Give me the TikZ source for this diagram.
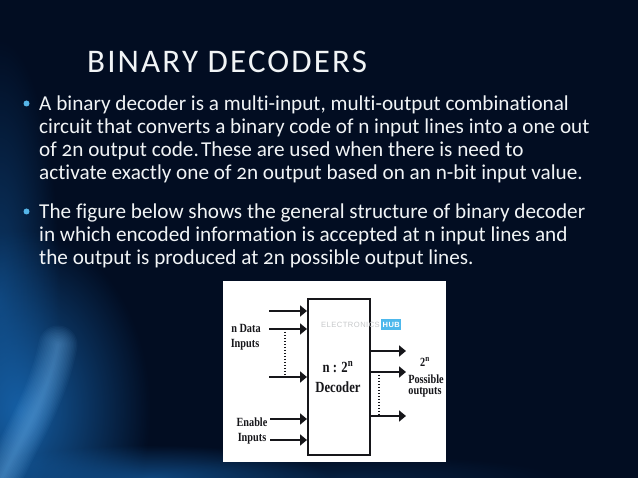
\documentclass[tikz,border=0pt]{standalone}
\usepackage{fontspec}
\setmainfont[Numbers=OldStyle,Ligatures=NoCommon]{Carlito}
\newfontfamily\titlefont[LetterSpace=6.5,Ligatures=NoCommon]{Carlito}
\newfontfamily\figfont[FakeStretch=0.82]{Liberation Serif}
\newfontfamily\wmfont[LetterSpace=6]{Liberation Sans}
\usetikzlibrary{arrows.meta,calc,fadings}
\definecolor{bgnavy}{HTML}{020D22}
\definecolor{glowblue}{HTML}{1766B0}
\definecolor{swoosh}{HTML}{6FB4EE}
\definecolor{bullet}{HTML}{55B5E8}
\definecolor{bodytxt}{HTML}{F1F4F6}
\definecolor{figink}{HTML}{16161A}
\definecolor{wmgrey}{HTML}{C6C8CA}
\definecolor{wmblue}{HTML}{4DB8EC}
\tikzfading[name=fadeB,inner color=transparent!0,outer color=transparent!100]
\tikzset{
 title/.style={anchor=base west,text=bodytxt,font=\titlefont\fontsize{33}{33}\selectfont,inner sep=0pt},
 body/.style={anchor=base west,text=bodytxt,font=\frenchspacing\fontsize{21.2}{22}\selectfont,inner sep=0pt},
 dot/.style={circle,fill=bullet,minimum size=6pt,inner sep=0pt},
 lab/.style={text=figink,font=\figfont\bfseries\fontsize{12.5}{12.5}\selectfont,inner sep=0pt},
 biglab/.style={text=figink,font=\figfont\bfseries\fontsize{15.5}{15.5}\selectfont,inner sep=0pt},
 sig/.style={line width=2pt,figink,-{Triangle[length=7pt,width=11pt]}},
 dots/.style={line width=1.3pt,figink,dash pattern=on 1.5pt off 1.5pt},
}
\begin{document}
\begin{tikzpicture}[x=1pt,y=-1pt]
\useasboundingbox (0,0) rectangle (638,478);
\fill[bgnavy] (0,0) rectangle (638,478);
% background glow
\begin{scope}
\clip (0,0) rectangle (638,478);
\fill[glowblue,path fading=fadeB,opacity=.50] (-60,40) rectangle (60,560);
\fill[glowblue,path fading=fadeB,opacity=.90] (-110,230) rectangle (150,590);
\fill[glowblue,path fading=fadeB,opacity=.65] (-30,445) rectangle (330,511);
\fill[glowblue,path fading=fadeB,opacity=.22] (130,455) rectangle (560,501);
\foreach \w in {3,6,...,39}
  \draw[swoosh,opacity=.05,line width=\w pt,line cap=round] (58,345) .. controls (48,395) and (25,430) .. (2,478);
\end{scope}
% text
\node[title] (ttl) at (87,73) {BINARY DECODERS};
\node[dot] (b1) at (26.5,103.5) {};
\node[dot] (b2) at (26.5,211.5) {};
\node[body] (l1) at (39,111) {A binary decoder is a multi-input, multi-output combinational};
\node[body] (l2) at (39,134) {circuit that converts a binary code of n input lines into a one out};
\node[body] (l3) at (39,157) {of 2n output code.\hspace{-2.5pt} These are used when there is need to};
\node[body] (l4) at (39,180) {activate exactly one of 2n output based on an n-bit input value.};
\node[body] (l5) at (39,219) {The figure below shows the general structure of binary decoder};
\node[body] (l6) at (39,242) {in which encoded information is accepted at n input lines and};
\node[body] (l7) at (39,265) {the output is produced at 2n possible output lines.};
% figure
\node[fill=white,minimum width=223pt,minimum height=181pt,inner sep=0pt,anchor=north west] (panel) at (223,281) {};
\node[draw=figink,line width=1.6pt,minimum width=62pt,minimum height=156pt,inner sep=0pt,anchor=north west] (dec) at (307,298) {};
\node[text=wmgrey,font=\wmfont\fontsize{7.6}{8}\selectfont,inner sep=0pt,anchor=east] (wm) at (380,324.5) {ELECTRONICS};
\node[fill=wmblue,text=white,font=\wmfont\bfseries\fontsize{7.5}{7.5}\selectfont,inner sep=1.5pt,minimum width=19pt,minimum height=11pt,anchor=west] (hub) at (381,324.5) {HUB};
\node[biglab] (ratio) at (338,367) {n : 2\textsuperscript{n}};
\node[biglab] (decl) at (338,387) {Decoder};
\node[lab] (nd) at (246,328) {n Data};
\node[lab] (in1) at (245,345) {Inputs};
\node[lab] (en) at (252,422) {Enable};
\node[lab] (in2) at (252,439) {Inputs};
\node[lab] (two) at (425,362) {2\textsuperscript{n}};
\node[lab] (pos) at (426,379) {Possible};
\node[lab] (out) at (425,392) {outputs};
% connectors
\coordinate (i1) at (269,311); \coordinate (i2) at (269,329); \coordinate (i3) at (269,377);
\coordinate (e1) at (270,419); \coordinate (e2) at (270,440);
\coordinate (o1) at (406,351); \coordinate (o2) at (406,372); \coordinate (o3) at (406,416);
\foreach \c in {i1,i2,i3,e1,e2} \draw[sig] (\c) -- (\c -| dec.west);
\foreach \c in {o1,o2,o3} \draw[sig] (\c -| dec.east) -- (\c);
\coordinate (di) at (285,329); \coordinate (dj) at (285,377);
\coordinate (dk) at (379,372); \coordinate (dl) at (379,416);
\draw[dots] (di) -- (dj);
\draw[dots] (dk) -- (dl);
\end{tikzpicture}
\end{document}
